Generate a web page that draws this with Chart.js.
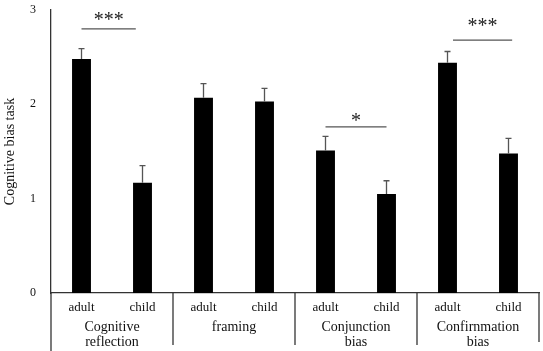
<!DOCTYPE html>
<html>
<head>
<meta charset="utf-8">
<script src="https://cdn.jsdelivr.net/npm/chart.js@4"></script>
<style>
  html, body { margin: 0; padding: 0; background: #fff; }
  #wrap { width: 543px; height: 351px; position: relative; }
</style>
</head>
<body>
<div id="wrap"><canvas id="chart"></canvas></div>
<script>
const categories = ['adult', 'child', 'adult', 'child', 'adult', 'child', 'adult', 'child'];
const groupLabels = [['Cognitive', 'reflection'], ['framing'], ['Conjunction', 'bias'], ['Confirnmation', 'bias']];
const meanValues = [2.48, 1.17, 2.07, 2.03, 1.51, 1.05, 2.44, 1.48];
const errorValues = [0.11, 0.18, 0.15, 0.14, 0.15, 0.14, 0.12, 0.16];
const yTicks = [0, 1, 2, 3];

// significance markers (x in category index units, y in value units)
const sigLabels = ['***', '*', '***'];
const sigFrom = [0, 4, 6.09];
const sigTo = [0.89, 5, 7.06];
const sigLineY = [2.80, 1.76, 2.68];
const sigTextY = [2.93, 1.86, 2.87];

const serif = '"Liberation Serif", "Times New Roman", serif';

const extras = {
  id: 'extras',
  afterDatasetsDraw(chart) {
    const ctx = chart.ctx;
    const x = chart.scales.x, y = chart.scales.y;
    const area = chart.chartArea;
    ctx.save();
    // error bars (upper only)
    ctx.strokeStyle = '#555';
    ctx.lineWidth = 1.3;
    meanValues.forEach((v, i) => {
      const px = x.getPixelForValue(i);
      const top = y.getPixelForValue(v + errorValues[i]);
      const base = y.getPixelForValue(v);
      ctx.beginPath();
      ctx.moveTo(px, base);
      ctx.lineTo(px, top);
      ctx.moveTo(px - 3, top);
      ctx.lineTo(px + 3, top);
      ctx.stroke();
    });
    // significance lines
    sigLabels.forEach((lab, i) => {
      const x1 = x.getPixelForValue(sigFrom[i]);
      const x2 = x.getPixelForValue(sigTo[i]);
      const ly = y.getPixelForValue(sigLineY[i]);
      ctx.strokeStyle = '#555';
      ctx.lineWidth = 1.3;
      ctx.beginPath();
      ctx.moveTo(x1, ly);
      ctx.lineTo(x2, ly);
      ctx.stroke();
      ctx.fillStyle = '#222';
      ctx.font = '20px ' + serif;
      ctx.textAlign = 'center';
      ctx.textBaseline = 'middle';
      ctx.fillText(lab, (x1 + x2) / 2, y.getPixelForValue(sigTextY[i]) + 4);
    });
    // group separators
    ctx.strokeStyle = '#333';
    ctx.lineWidth = 1.3;
    const H = chart.height;
    const seps = [area.left];
    for (let g = 1; g < groupLabels.length; g++) {
      seps.push((x.getPixelForValue(g * 2 - 1) + x.getPixelForValue(g * 2)) / 2);
    }
    seps.push(area.right);
    seps.forEach((sx, i) => {
      const end = i === 0 ? H : (i === seps.length - 1 ? H - 9 : H - 6);
      ctx.beginPath();
      ctx.moveTo(sx, area.bottom);
      ctx.lineTo(sx, end);
      ctx.stroke();
    });
    // group labels
    ctx.fillStyle = '#111';
    ctx.font = '14px ' + serif;
    ctx.textAlign = 'center';
    ctx.textBaseline = 'middle';
    groupLabels.forEach((lines, g) => {
      const cx = (x.getPixelForValue(g * 2) + x.getPixelForValue(g * 2 + 1)) / 2;
      lines.forEach((t, k) => {
        ctx.fillText(t, cx, area.bottom + 34 + k * 15);
      });
    });
    ctx.restore();
  }
};

new Chart(document.getElementById('chart'), {
  type: 'bar',
  data: {
    labels: categories,
    datasets: [{
      data: meanValues,
      backgroundColor: '#000',
      borderWidth: 0,
      barPercentage: 0.31,
      categoryPercentage: 1
    }]
  },
  options: {
    responsive: true,
    maintainAspectRatio: false,
    animation: false,
    layout: { padding: { top: 10, right: 4, left: 0, bottom: 0 } },
    plugins: { legend: { display: false }, tooltip: { enabled: false } },
    scales: {
      x: {
        grid: { display: false, drawTicks: false },
        border: { display: true, color: '#333', width: 1.3 },
        ticks: { color: '#111', font: { family: serif, size: 13 }, padding: 7, maxRotation: 0 },
        afterFit(scale) { scale.height = 58; }
      },
      y: {
        min: 0,
        max: 3,
        grid: { display: false, drawTicks: false },
        border: { display: true, color: '#333', width: 1.3 },
        afterBuildTicks(scale) { scale.ticks = yTicks.map(v => ({ value: v })); },
        ticks: { color: '#111', font: { family: serif, size: 12 }, padding: 15 },
        title: {
          display: true,
          text: 'Cognitive bias task',
          color: '#111',
          font: { family: serif, size: 14 },
          padding: { top: 2, bottom: 0 }
        },
        afterFit(scale) {
          scale.width = 51;
          scale.paddingTop = 0;
          scale.paddingBottom = 0;
        }
      }
    }
  },
  plugins: [extras]
});
</script>
</body>
</html>
